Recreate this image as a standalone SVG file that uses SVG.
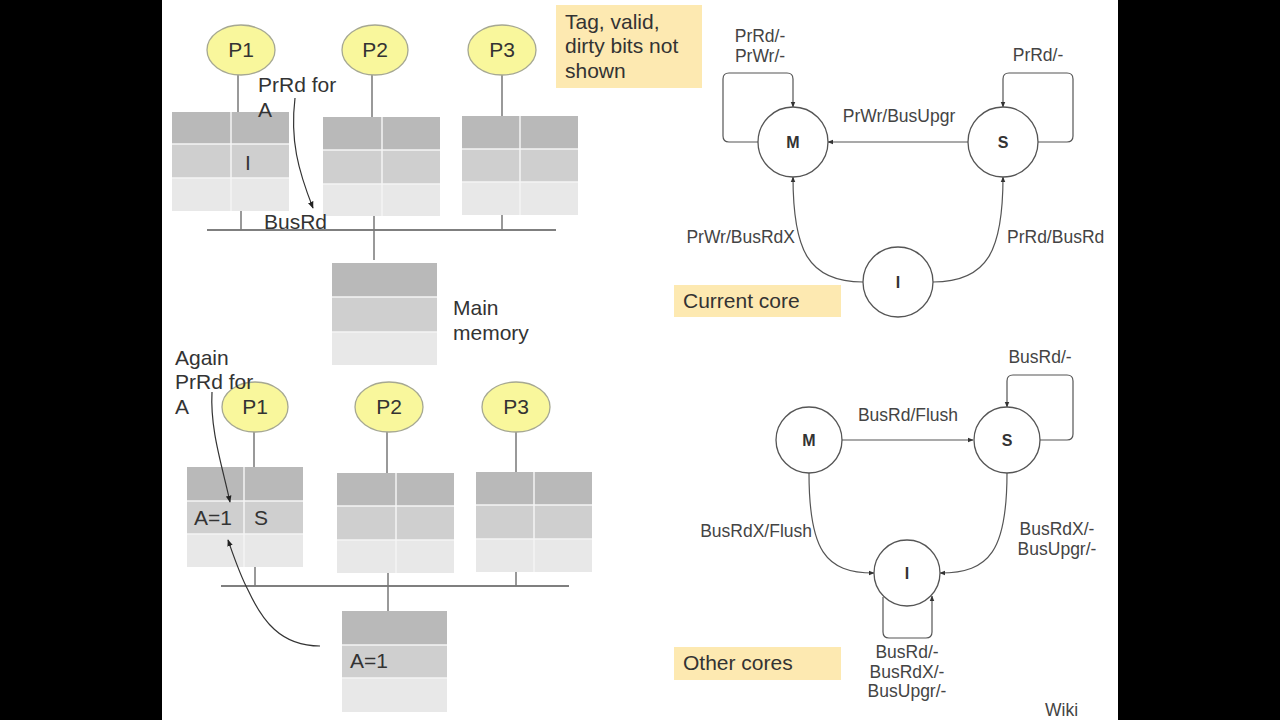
<svg xmlns="http://www.w3.org/2000/svg" width="1280" height="720" viewBox="0 0 1280 720">
<defs>
<marker id="arr" viewBox="0 0 10 10" refX="9" refY="5" markerWidth="7" markerHeight="7" orient="auto" markerUnits="userSpaceOnUse">
<path d="M0,1 L10,5 L0,9 Z" fill="#222"/>
</marker>
<marker id="arrs" viewBox="0 0 10 10" refX="9" refY="5" markerWidth="6" markerHeight="6" orient="auto" markerUnits="userSpaceOnUse">
<path d="M0,1 L10,5 L0,9 Z" fill="#333"/>
</marker>
</defs>
<style>
.proc{fill:#f9f79c;stroke:#a6a892;stroke-width:1.3}
.plbl{font-family:"Liberation Sans",Arial,sans-serif;font-size:21px;fill:#333;text-anchor:middle}
.r1{fill:#b9b9b9}
.r2{fill:#cfcfcf}
.r3{fill:#e8e8e8}
.div{stroke:#f4f4f4;stroke-width:1.5}
.wire{stroke:#777;stroke-width:1.5;fill:none}
.bus{stroke:#555;stroke-width:1.5;fill:none}
.txt{font-family:"Liberation Sans",Arial,sans-serif;font-size:21px;fill:#333}
.note{fill:#fde9b1}
.st{fill:#fff;stroke:#555;stroke-width:1.3}
.stl{font-family:"Liberation Sans",Arial,sans-serif;font-size:16px;font-weight:bold;fill:#333;text-anchor:middle}
.edge{stroke:#555;stroke-width:1.2;fill:none;marker-end:url(#arrs)}
.el{font-family:"Liberation Sans",Arial,sans-serif;font-size:17.5px;fill:#444}
.ann{stroke:#333;stroke-width:1.2;fill:none;marker-end:url(#arr)}
</style>
<rect x="0" y="0" width="1280" height="720" fill="#000"/>
<rect x="162" y="0" width="956" height="720" fill="#fff"/>

<!-- top left system -->
<g id="top-wires">
<line class="wire" x1="238" y1="75" x2="238" y2="112"/>
<line class="wire" x1="372" y1="75" x2="372" y2="117"/>
<line class="wire" x1="502" y1="75" x2="502" y2="116"/>
<line class="bus" x1="207" y1="230" x2="556" y2="230"/>
<line class="wire" x1="241" y1="211" x2="241" y2="230"/>
<line class="wire" x1="374" y1="216" x2="374" y2="260"/>
<line class="wire" x1="502" y1="215" x2="502" y2="230"/>
</g>
<g id="top-p1"><ellipse class="proc" cx="241" cy="50" rx="34" ry="25"/><text class="plbl" x="241" y="57">P1</text></g>
<g id="top-p2"><ellipse class="proc" cx="375" cy="50" rx="33" ry="25"/><text class="plbl" x="375" y="57">P2</text></g>
<g id="top-p3"><ellipse class="proc" cx="502" cy="50" rx="34" ry="25"/><text class="plbl" x="502" y="57">P3</text></g>
<g id="top-cache1">
<rect class="r1" x="172" y="112" width="117" height="32"/>
<rect class="r2" x="172" y="144" width="117" height="34"/>
<rect class="r3" x="172" y="178" width="117" height="33"/>
<line class="div" x1="172" y1="144" x2="289" y2="144"/><line class="div" x1="172" y1="178" x2="289" y2="178"/>
<line class="div" x1="231" y1="112" x2="231" y2="211"/>
<text class="txt" x="245" y="170">I</text>
</g>
<g id="top-cache2">
<rect class="r1" x="323" y="117" width="117" height="33"/>
<rect class="r2" x="323" y="150" width="117" height="34"/>
<rect class="r3" x="323" y="184" width="117" height="32"/>
<line class="div" x1="323" y1="150" x2="440" y2="150"/><line class="div" x1="323" y1="184" x2="440" y2="184"/>
<line class="div" x1="382" y1="117" x2="382" y2="216"/>
</g>
<g id="top-cache3">
<rect class="r1" x="462" y="116" width="116" height="33"/>
<rect class="r2" x="462" y="149" width="116" height="33"/>
<rect class="r3" x="462" y="182" width="116" height="33"/>
<line class="div" x1="462" y1="149" x2="578" y2="149"/><line class="div" x1="462" y1="182" x2="578" y2="182"/>
<line class="div" x1="520" y1="116" x2="520" y2="215"/>
</g>
<g id="main-memory">
<rect class="r1" x="332" y="263" width="105" height="34"/>
<rect class="r2" x="332" y="297" width="105" height="35"/>
<rect class="r3" x="332" y="332" width="105" height="33"/>
<line class="div" x1="332" y1="297" x2="437" y2="297"/><line class="div" x1="332" y1="332" x2="437" y2="332"/>
<text class="txt" x="453" y="315">Main</text>
<text class="txt" x="453" y="340">memory</text>
</g>
<g id="top-labels">
<text class="txt" x="258" y="92">PrRd for</text>
<text class="txt" x="258" y="117">A</text>
<text class="txt" x="264" y="229">BusRd</text>
</g>
<g id="note">
<rect class="note" x="556" y="5" width="146" height="83"/>
<text class="txt" x="565" y="29">Tag, valid,</text>
<text class="txt" x="565" y="53">dirty bits not</text>
<text class="txt" x="565" y="78">shown</text>
</g>

<!-- bottom left system -->
<g id="bottom-wires">
<line class="wire" x1="254" y1="432" x2="254" y2="467"/>
<line class="wire" x1="387" y1="432" x2="387" y2="473"/>
<line class="wire" x1="516" y1="432" x2="516" y2="472"/>
<line class="bus" x1="221" y1="586" x2="569" y2="586"/>
<line class="wire" x1="255" y1="567" x2="255" y2="586"/>
<line class="wire" x1="388" y1="573" x2="388" y2="611"/>
<line class="wire" x1="516" y1="572" x2="516" y2="586"/>
</g>
<g id="bot-p1"><ellipse class="proc" cx="255" cy="407" rx="33" ry="25"/><text class="plbl" x="255" y="414">P1</text></g>
<g id="bot-p2"><ellipse class="proc" cx="389" cy="407" rx="34" ry="25"/><text class="plbl" x="389" y="414">P2</text></g>
<g id="bot-p3"><ellipse class="proc" cx="516" cy="407" rx="34" ry="25"/><text class="plbl" x="516" y="414">P3</text></g>
<g id="bot-labels">
<text class="txt" x="175" y="365">Again</text>
<text class="txt" x="175" y="389">PrRd for</text>
<text class="txt" x="175" y="414">A</text>
</g>
<g id="bot-cache1">
<rect class="r1" x="187" y="467" width="116" height="34"/>
<rect class="r2" x="187" y="501" width="116" height="33"/>
<rect class="r3" x="187" y="534" width="116" height="33"/>
<line class="div" x1="187" y1="501" x2="303" y2="501"/><line class="div" x1="187" y1="534" x2="303" y2="534"/>
<line class="div" x1="244" y1="467" x2="244" y2="567"/>
<text class="txt" x="194" y="525">A=1</text>
<text class="txt" x="254" y="525">S</text>
</g>
<g id="bot-cache2">
<rect class="r1" x="337" y="473" width="117" height="33"/>
<rect class="r2" x="337" y="506" width="117" height="34"/>
<rect class="r3" x="337" y="540" width="117" height="33"/>
<line class="div" x1="337" y1="506" x2="454" y2="506"/><line class="div" x1="337" y1="540" x2="454" y2="540"/>
<line class="div" x1="396" y1="473" x2="396" y2="573"/>
</g>
<g id="bot-cache3">
<rect class="r1" x="476" y="472" width="116" height="33"/>
<rect class="r2" x="476" y="505" width="116" height="34"/>
<rect class="r3" x="476" y="539" width="116" height="33"/>
<line class="div" x1="476" y1="505" x2="592" y2="505"/><line class="div" x1="476" y1="539" x2="592" y2="539"/>
<line class="div" x1="534" y1="472" x2="534" y2="572"/>
</g>
<g id="bot-memory">
<rect class="r1" x="342" y="611" width="105" height="34"/>
<rect class="r2" x="342" y="645" width="105" height="33"/>
<rect class="r3" x="342" y="678" width="105" height="34"/>
<line class="div" x1="342" y1="645" x2="447" y2="645"/><line class="div" x1="342" y1="678" x2="447" y2="678"/>
<text class="txt" x="350" y="668">A=1</text>
</g>
<g id="annotation-arrows">
<path class="ann" d="M295,98 C290,140 298,170 313,208"/>
<path class="ann" d="M212,392 C210,430 222,465 230,502"/>
<path class="ann" d="M320,646 C280,646 262,620 248,590 C240,575 235,560 228,540"/>
</g>

<!-- current core FSM -->
<g id="cc-edges">
<path class="edge" d="M758,142 L729,142 Q723,142 723,136 L723,79 Q723,73 729,73 L787,73 Q793,73 793,79 L793,107"/>
<path class="edge" d="M1038,142 L1067,142 Q1073,142 1073,136 L1073,79 Q1073,73 1067,73 L1009,73 Q1003,73 1003,79 L1003,107"/>
<path class="edge" d="M968,142 L828,142"/>
<path class="edge" d="M863,282 C808,282 793,250 793,177"/>
<path class="edge" d="M933,282 C988,282 1003,250 1003,177"/>
<text class="el" x="760" y="42" text-anchor="middle">PrRd/-</text>
<text class="el" x="760" y="62" text-anchor="middle">PrWr/-</text>
<text class="el" x="1038" y="61" text-anchor="middle">PrRd/-</text>
<text class="el" x="899" y="122" text-anchor="middle">PrWr/BusUpgr</text>
<text class="el" x="795" y="243" text-anchor="end">PrWr/BusRdX</text>
<text class="el" x="1007" y="243">PrRd/BusRd</text>
</g>
<g id="cc-M"><circle class="st" cx="793" cy="142" r="35"/><text class="stl" x="793" y="148">M</text></g>
<g id="cc-S"><circle class="st" cx="1003" cy="142" r="35"/><text class="stl" x="1003" y="148">S</text></g>
<g id="cc-I"><circle class="st" cx="898" cy="282" r="35"/><text class="stl" x="898" y="288">I</text></g>
<g id="cc-title"><rect class="note" x="674" y="285" width="167" height="32"/><text class="txt" x="683" y="308">Current core</text></g>

<!-- other cores FSM -->
<g id="oc-edges">
<path class="edge" d="M842,440 L973,440"/>
<path class="edge" d="M1040,440 L1067,440 Q1073,440 1073,434 L1073,381 Q1073,375 1067,375 L1013,375 Q1007,375 1007,381 L1007,407"/>
<path class="edge" d="M809,473 C809,550 825,573 874,573"/>
<path class="edge" d="M1007,473 C1007,550 990,573 940,573"/>
<path class="edge" d="M883,597 L883,632 Q883,638 889,638 L926,638 Q932,638 932,632 L932,596"/>
<text class="el" x="908" y="421" text-anchor="middle">BusRd/Flush</text>
<text class="el" x="1040" y="363" text-anchor="middle">BusRd/-</text>
<text class="el" x="812" y="537" text-anchor="end">BusRdX/Flush</text>
<text class="el" x="1057" y="535" text-anchor="middle">BusRdX/-</text>
<text class="el" x="1057" y="555" text-anchor="middle">BusUpgr/-</text>
<text class="el" x="907" y="658" text-anchor="middle">BusRd/-</text>
<text class="el" x="907" y="678" text-anchor="middle">BusRdX/-</text>
<text class="el" x="907" y="697" text-anchor="middle">BusUpgr/-</text>
</g>
<g id="oc-M"><circle class="st" cx="809" cy="440" r="33"/><text class="stl" x="809" y="446">M</text></g>
<g id="oc-S"><circle class="st" cx="1007" cy="440" r="33"/><text class="stl" x="1007" y="446">S</text></g>
<g id="oc-I"><circle class="st" cx="907" cy="573" r="33"/><text class="stl" x="907" y="579">I</text></g>
<g id="oc-title"><rect class="note" x="674" y="647" width="167" height="33"/><text class="txt" x="683" y="670">Other cores</text></g>
<text class="el" x="1045" y="716" font-size="14">Wiki</text>
</svg>
